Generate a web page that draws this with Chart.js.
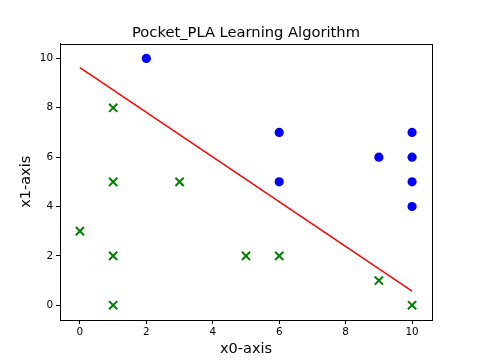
<!DOCTYPE html>
<html>
<head>
<meta charset="utf-8">
<script src="https://cdn.jsdelivr.net/npm/chart.js@4"></script>
<style>
  html, body { margin: 0; padding: 0; background: #fff; }
</style>
</head>
<body>
<canvas id="scatterChart" width="480" height="360"></canvas>
<script>
// data
var posX = [2, 6, 6, 9, 10, 10, 10, 10];
var posY = [10, 7, 5, 6, 7, 6, 5, 4];
var negX = [1, 1, 3, 0, 1, 1, 5, 6, 9, 10];
var negY = [8, 5, 5, 3, 2, 0, 2, 2, 1, 0];
var lineX = [0, 10];
var lineY = [9.63, 0.57];
var xTicks = [0, 2, 4, 6, 8, 10];
var yTicks = [0, 2, 4, 6, 8, 10];

var toPts = (xs, ys) => xs.map((x, i) => ({ x: x, y: ys[i] }));

var boxPlugin = {
  id: 'box',
  afterDraw: (chart) => {
    let a = chart.chartArea;
    let c = chart.ctx;
    c.save();
    c.strokeStyle = '#000';
    c.lineWidth = 1;
    c.strokeRect(Math.round(a.left) + 0.5, Math.round(a.top) + 0.5,
      Math.round(a.right - a.left), Math.round(a.bottom - a.top));
    c.restore();
  }
};

var tickFont = { family: 'DejaVu Sans', size: 10.4 };
var labelFont = { family: 'DejaVu Sans', size: 14.5 };

var ctx = document.getElementById('scatterChart').getContext('2d');
var chart = new Chart(ctx, {
  type: 'scatter',
  data: {
    datasets: [{
      label: 'line',
      data: toPts(lineX, lineY),
      showLine: true,
      borderColor: 'red',
      borderWidth: 1.5,
      pointRadius: 0,
      fill: false
    }, {
      label: 'positive',
      data: toPts(posX, posY),
      pointStyle: 'circle',
      pointRadius: 4.6,
      backgroundColor: 'blue',
      borderColor: 'blue',
      borderWidth: 0
    }, {
      label: 'negative',
      data: toPts(negX, negY),
      pointStyle: 'crossRot',
      pointRadius: 5.8,
      borderColor: 'green',
      borderWidth: 2
    }]
  },
  options: {
    responsive: false,
    animation: false,
    layout: { padding: { left: 12, right: 0, top: 0, bottom: 0 } },
    plugins: {
      legend: { display: false },
      tooltip: { enabled: false },
      title: {
        display: true,
        text: 'Pocket_PLA Learning Algorithm',
        color: '#000',
        font: { family: 'DejaVu Sans', size: 14.7, weight: 'normal' },
        padding: { top: 24, bottom: 2 }
      }
    },
    scales: {
      x: {
        type: 'linear',
        min: -0.6,
        max: 10.6,
        afterBuildTicks: (s) => { s.ticks = xTicks.map(v => ({ value: v })); },
        afterFit: (s) => { s.height = 40; },
        grid: { display: true, drawOnChartArea: false, tickLength: 4, color: '#000' },
        border: { color: '#000' },
        ticks: { color: '#000', font: tickFont, padding: 2, maxRotation: 0 },
        title: { display: true, text: 'x0-axis', color: '#000', font: labelFont, padding: { top: 0, bottom: 2 } }
      },
      y: {
        type: 'linear',
        min: -0.6,
        max: 10.6,
        afterBuildTicks: (s) => { s.ticks = yTicks.map(v => ({ value: v })); },
        afterFit: (s) => { s.width = 48; },
        grid: { display: true, drawOnChartArea: false, tickLength: 4, color: '#000' },
        border: { color: '#000' },
        ticks: { color: '#000', font: tickFont, padding: 3 },
        title: { display: true, text: 'x1-axis', color: '#000', font: labelFont, padding: { top: 6, bottom: 0 } }
      },
      yRight: {
        type: 'linear',
        position: 'right',
        min: -0.6,
        max: 10.6,
        afterFit: (s) => { s.width = 48; },
        grid: { display: false },
        border: { display: false },
        ticks: { display: false }
      }
    }
  },
  plugins: [boxPlugin]
});
</script>
</body>
</html>
